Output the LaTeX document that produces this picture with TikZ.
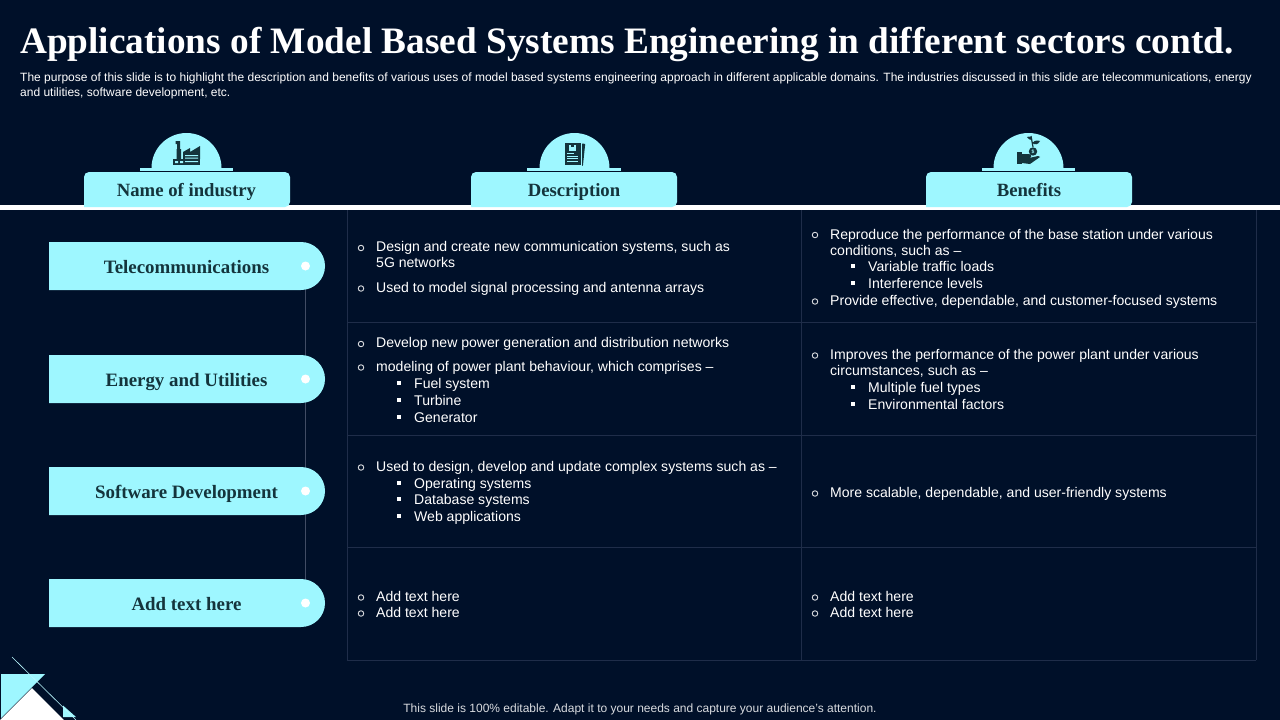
\documentclass[tikz,border=0pt]{standalone}
\usepackage{fontspec}
\setmainfont{Liberation Sans}
\newfontfamily\headfont{Liberation Serif}
\usetikzlibrary{shapes.misc}
\definecolor{navybg}{HTML}{001029}
\definecolor{paleblue}{HTML}{9EF7FF}
\definecolor{darkink}{HTML}{14343C}
\definecolor{gridline}{HTML}{1F2D49}
\def\firstdome{(151.5,168) arc (180:360:35)}
\def\seconddome{(539.5,168) arc (180:360:35)}
\def\thirddome{(993.5,168) arc (180:360:35)}
\tikzset{
  itemtext/.style={anchor=west, inner sep=0pt, text=white, font=\fontsize{14.05}{16}\selectfont, text height=12pt, text depth=1pt},
  ringdot/.style={circle, draw=white!85!navybg, line width=0.9pt, inner sep=0pt, minimum size=5.5pt},
  squaredot/.style={rectangle, fill=white, inner sep=0pt, minimum size=4pt},
  pillbox/.style={rounded rectangle, rounded rectangle left arc=none, fill=paleblue, text=darkink, minimum width=276pt, minimum height=48pt, inner sep=0pt, text height=14pt, text depth=0pt, font=\headfont\bfseries\fontsize{18.9}{20}\selectfont},
  tablabel/.style={text=darkink, inner sep=0pt, text height=12pt, text depth=0pt, font=\headfont\bfseries\fontsize{18.7}{20}\selectfont},
  whitedot/.style={circle, fill=white, inner sep=0pt, minimum size=9pt},
  grid/.style={draw=gridline, line width=1pt},
  linkline/.style={draw=gridline!85!white, line width=0.8pt},
}
\begin{document}
\begin{tikzpicture}[x=1pt,y=-1pt]
\useasboundingbox (0,0) rectangle (1280,720);
\fill[navybg] (0,0) rectangle (1280,720);

\node[anchor=west, inner sep=0pt, text=white, font=\headfont\bfseries\fontsize{37.3}{40}\selectfont] (title) at (20,44.5) {Applications of Model Based Systems Engineering in different sectors contd.};
\node[anchor=west, inner sep=0pt, text=white, font=\fontsize{12}{14}\selectfont] (subone) at (20,78.5) {The purpose of this slide is to highlight the description and benefits of various uses of model based systems engineering approach in different applicable domains. The industries discussed in this slide are telecommunications, energy};
\node[anchor=west, inner sep=0pt, text=white, font=\fontsize{12}{14}\selectfont] (subtwo) at (20,93) {and utilities, software development, etc.};

\fill[white] (0,205) rectangle (1280,210);

\begin{scope}[fill=paleblue]
  \fill \firstdome -- cycle;
  \fill \seconddome -- cycle;
  \fill \thirddome -- cycle;
  \fill (140,168) rectangle (233,170.5);
  \fill (527,168) rectangle (621,170.5);
  \fill (982,168) rectangle (1075,170.5);
  \foreach \x in {84,471,926}
    \fill[rounded corners=5pt] (\x,207) -- (\x,172) -- (\x+206,172) -- (\x+206,207) [sharp corners] -- cycle;
\end{scope}
\node[tablabel] (industry) at (186.5,190) {Name of industry};
\node[tablabel] (description) at (574,190) {Description};
\node[tablabel] (benefits) at (1029,190) {Benefits};

\begin{scope}[darkink]
  \fill (173,159) rectangle (200,164.5);
  \fill (176.5,149) rectangle (181,159) (175.5,141) rectangle (180,144) (177,144) rectangle (180,149);
  \fill (183,159) -- (183,152) -- (190,148) -- (190,152) -- (200,146) -- (200,159) -- cycle;
  \fill[paleblue] (185,155) rectangle (198,156) (185,157.5) rectangle (198,158.5) (175,161) rectangle (178,163) (180,161) rectangle (183,163) (185,161) rectangle (198,162);
\end{scope}

\begin{scope}[darkink]
  \fill[rotate around={-6:(576,155)}] (568,143) rectangle (584,165);
  \fill[draw=paleblue, line width=0.4pt] (564,142) rectangle (581,165);
  \fill[paleblue] (569,144.5) rectangle (576,151);
  \fill[darkink] (571,144.5) rectangle (574,147);
  \draw[paleblue, line width=0.4pt] (567,153.5) -- (574,153.5) (567,156) -- (578,156) (567,158.5) -- (578,158.5) (567,161) -- (578,161);
\end{scope}

\begin{scope}[darkink]
  \fill (1017,152) rectangle (1022,164);
  \fill (1022,154) -- (1029,154) .. controls (1032,155) and (1032,157) .. (1029,158) -- (1038,156) -- (1040,157) -- (1030,164) -- (1022,163) -- cycle;
  \fill (1033,151.5) circle (4.2);
  \draw[line width=1.2pt] (1033,147) -- (1031,136);
  \fill (1032,143) .. controls (1036,139) and (1039,141) .. (1040,141) .. controls (1038,145) and (1035,145) .. (1032,143) -- cycle;
  \fill (1032,140) .. controls (1028,140) and (1028,137) .. (1027,137) .. controls (1030,136) and (1032,137) .. (1032,140) -- cycle;
\end{scope}
\node[text=paleblue, inner sep=0pt, font=\fontsize{5}{5}\selectfont\bfseries] (dollar) at (1033,151.5) {\$};

\node[pillbox] (telecom) at (186.5,266) {Telecommunications};
\node[pillbox] (energy) at (186.5,379) {Energy and Utilities};
\node[pillbox] (software) at (186.5,491) {Software Development};
\node[pillbox] (addtext) at (186.5,603) {Add text here};

\node[whitedot] (teledot) at (305.5,266) {};
\node[whitedot] (energydot) at (305.5,379) {};
\node[whitedot] (softdot) at (305.5,491) {};
\node[whitedot] (adddot) at (305.5,603) {};
\draw[linkline] (telecom.south -| teledot) -- (energy.north -| energydot);
\draw[linkline] (energy.south -| energydot) -- (software.north -| softdot);
\draw[linkline] (software.south -| softdot) -- (addtext.north -| adddot);

\coordinate (gridtl) at (347,210);
\coordinate (gridbr) at (1256,660);
\draw[grid] (gridtl) -- (gridtl |- gridbr);
\draw[grid] (801,210) -- (801,660);
\draw[grid] (gridbr |- gridtl) -- (gridbr);
\foreach \y in {322,435,547,660}
  \draw[grid] (347,\y) -- (1256,\y);

\foreach \y/\txt [count=\i] in {246/{Design and create new communication systems, such as},262/5G networks,287/Used to model signal processing and antenna arrays,342/Develop new power generation and distribution networks,366/{modeling of power plant behaviour, which comprises --},466/{Used to design, develop and update complex systems such as --},596/Add text here,612/Add text here}
  \node[itemtext] (descitem\i) at (376,\y) {\txt};
\foreach \y/\txt [count=\i] in {383/Fuel system,400/Turbine,417/Generator,482.5/Operating systems,499/Database systems,516/Web applications}{
  \node[itemtext] (descsub\i) at (414,\y) {\txt};
  \node[squaredot] (descsq\i) at (399,\y) {};
}
\foreach \y/\txt [count=\i] in {233.5/Reproduce the performance of the base station under various,249.5/{conditions, such as --},300/{Provide effective, dependable, and customer-focused systems},354/Improves the performance of the power plant under various,370/{circumstances, such as --},492/{More scalable, dependable, and user-friendly systems},596/Add text here,612/Add text here}
  \node[itemtext] (benefititem\i) at (830,\y) {\txt};
\foreach \y/\txt [count=\i] in {266/Variable traffic loads,283/Interference levels,387/Multiple fuel types,404/Environmental factors}{
  \node[itemtext] (benefitsub\i) at (868,\y) {\txt};
  \node[squaredot] (benefitsq\i) at (853,\y) {};
}
\foreach \y [count=\i] in {248,288.5,344,367.5,467.5,597.5,613.5}
  \node[ringdot] (descring\i) at (361,\y) {};
\foreach \y [count=\i] in {235,301.5,355.5,493.5,597.5,613.5}
  \node[ringdot] (benefitring\i) at (815,\y) {};

\fill[white] (32,688) -- (64,720) -- (0,720) -- cycle;
\fill[paleblue] (1,674) -- (45,674) -- (1,718) -- cycle;
\fill[paleblue] (63,705.5) -- (76,717) -- (63,717) -- cycle;
\draw[paleblue!70!white, line width=0.6pt] (12,657) -- (76,720);

\node[inner sep=0pt, text=white!85!navybg, font=\fontsize{12}{14}\selectfont] (footer) at (640,709) {This slide is 100\% editable. Adapt it to your needs and capture your audience's attention.};
\end{tikzpicture}
\end{document}
